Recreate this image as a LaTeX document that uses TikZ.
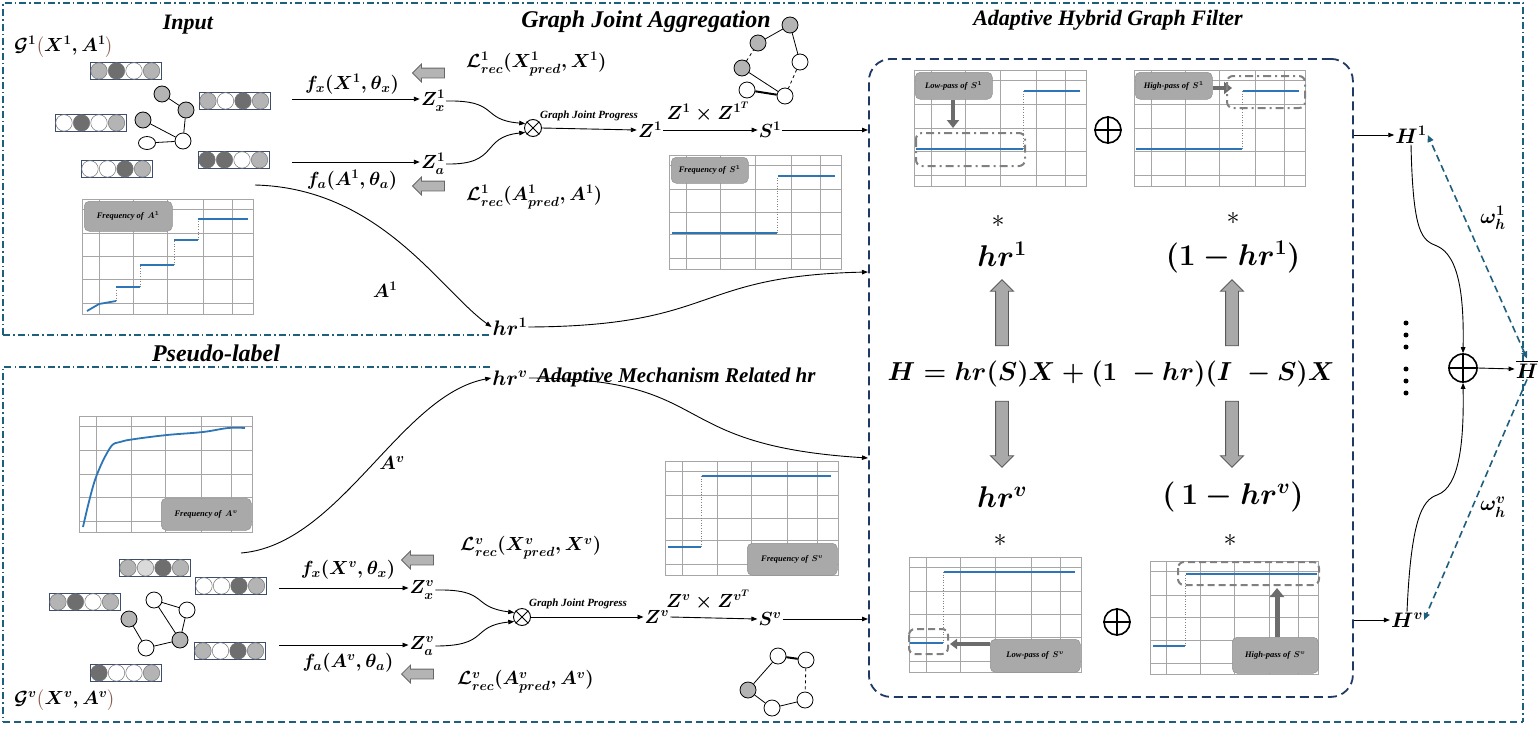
\documentclass[tikz,border=0pt]{standalone}
\usepackage{fix-cm}
\usepackage{amsmath}
\usepackage{bm}
\usepackage{fontspec}
\setmainfont{Liberation Serif}
\usetikzlibrary{arrows.meta,shapes.arrows,shapes.geometric,calc}
\definecolor{teal1}{HTML}{1F5F7E}
\definecolor{navy1}{HTML}{203864}
\definecolor{lg}{HTML}{B4B4B4}
\definecolor{dg}{HTML}{6E6E6E}
\definecolor{vlg}{HTML}{DADADA}
\definecolor{bl}{HTML}{2E75B6}
\definecolor{gridc}{HTML}{A6A6A6}
\definecolor{boxg}{HTML}{A9A9A9}
\definecolor{brn}{HTML}{8B5A4A}
\tikzset{
  ddframe/.style={teal1, line width=1.6pt, dash pattern=on 7pt off 3pt on 1.5pt off 3pt},
  dframe/.style={teal1, line width=1.6pt, dash pattern=on 7pt off 4pt},
  arr/.style={-{Triangle[length=6pt,width=4.5pt]}, line width=0.9pt},
  mlbl/.style={font=\fontsize{19}{22}\selectfont\boldmath, inner sep=1pt},
  hlbl/.style={font=\fontsize{21}{24}\selectfont\boldmath, inner sep=1pt},
  flbl/.style={font=\fontsize{30}{34}\selectfont\boldmath, inner sep=1pt},
  ttl/.style={font=\fontsize{22}{24}\selectfont\bfseries\itshape, inner sep=1pt},
  fvrect/.style={draw=navy1!70!gray, line width=0.8pt, minimum width=71pt, minimum height=17pt, inner sep=0, anchor=north west},
  fvc/.style={circle, draw=black!55, line width=0.5pt, minimum size=16.5pt, inner sep=0},
  gnode/.style={circle, draw=black, line width=0.8pt, minimum size=16pt, inner sep=0},
  chartframe/.style={draw=gridc, line width=0.9pt, inner sep=0},
  gridline/.style={gridc, line width=0.7pt},
  bstep/.style={bl, line width=1.8pt},
  dotc/.style={gray, dotted, line width=0.6pt},
  lblbox/.style={fill=boxg, draw=boxg!85!black, line width=0.5pt, rounded corners=5pt, inner sep=0, anchor=north west, font=\fontsize{8.5}{9}\selectfont\bfseries\itshape},
  holl/.style={single arrow, shape border rotate=180, draw=black!60, fill=lg, line width=0.8pt, minimum height=32pt, inner sep=4.5pt, single arrow head extend=4pt},
  bigarr/.style={single arrow, draw=black!65, fill=boxg, line width=0.9pt, minimum height=66pt, inner sep=6pt, single arrow head extend=5pt},
  graydd/.style={draw=gray, line width=2pt, rounded corners=6pt, dash pattern=on 8pt off 4pt on 2pt off 4pt},
  graydash/.style={draw=gray, line width=2pt, rounded corners=6pt, dash pattern=on 7pt off 4pt},
  thickarr/.style={gray!85!black, line width=4pt, -{Triangle[length=8pt,width=12pt]}},
  tarr/.style={teal1, line width=1.6pt, dash pattern=on 7pt off 4pt},
  star/.style={font=\fontsize{26}{28}\selectfont, inner sep=0},
  gjp/.style={font=\fontsize{11}{12}\selectfont\bfseries\itshape, anchor=west, inner sep=0},
}
\newcommand\fvec[7]{%
  \node[fvrect] (#1) at (#2,#3) {};
  \node[fvc, fill=#4] (#1-1) at ($(#1.west)+(9,0)$) {};
  \node[fvc, fill=#5] (#1-2) at ($(#1.west)+(26.5,0)$) {};
  \node[fvc, fill=#6] (#1-3) at ($(#1.west)+(44,0)$) {};
  \node[fvc, fill=#7] (#1-4) at ($(#1.west)+(61.5,0)$) {};
}
\newcommand\fchart[5]{%
  \node[chartframe, minimum width=#4pt, minimum height=#5pt, anchor=north west] (#1) at (#2,#3) {};
  \foreach \f in {0.1,0.3,0.5,0.71,0.88}
    \draw[gridline] ($(#1.north west)+(\f*#4,0)$) -- ($(#1.south west)+(\f*#4,0)$);
  \foreach \f in {0.09,0.3,0.5,0.7,0.91}
    \draw[gridline] ($(#1.north west)+(0,\f*#5)$) -- ($(#1.north east)+(0,\f*#5)$);
}
\newcommand\opl[4]{%
  \node[circle, draw, line width=1.6pt, minimum size=#4pt, inner sep=0] (#1) at (#2,#3) {};
  \draw[line width=1.6pt] (#1.north) -- (#1.south) (#1.east) -- (#1.west);
}
\newcommand\otm[4]{%
  \node[circle, draw, line width=0.9pt, minimum size=#4pt, inner sep=0] (#1) at (#2,#3) {};
  \draw[line width=0.9pt] (#1.north west) -- (#1.south east) (#1.north east) -- (#1.south west);
}
\begin{document}
\begin{tikzpicture}[x=1pt,y=-1pt]
\useasboundingbox (0,0) rectangle (1538,728);

% ---------------- frames ----------------
\draw[ddframe] (3,335) -- (3,3) -- (1523,3) -- (1523,722);
\draw[ddframe] (3,335) -- (490,335);
\draw[ddframe] (490,367) -- (3,367) -- (3,722);
\draw[dframe] (3,722) -- (1523,722);
\node[draw=navy1, line width=1.8pt, dash pattern=on 9pt off 5pt, rounded corners=22pt,
      minimum width=484pt, minimum height=638pt, anchor=north west, inner sep=0] (filter) at (868,58) {};

% ---------------- titles ----------------
\node[ttl] (tIn) at (188,25) {Input};
\node[ttl, font=\fontsize{24}{26}\selectfont\bfseries\itshape] (tGJA) at (646,22) {Graph Joint Aggregation};
\node[ttl] (tAHGF) at (1108,20) {Adaptive Hybrid Graph Filter};
\node[ttl, font=\fontsize{24}{26}\selectfont\bfseries\itshape] (tPL) at (216,353) {Pseudo-label};
\node[font=\fontsize{21}{23}\selectfont\bfseries\itshape, anchor=west, inner sep=0] (tAM) at (537,377) {Adaptive Mechanism Related hr};

% ---------------- input graph ----------------
\node[anchor=west, font=\fontsize{19}{22}\selectfont\boldmath, inner sep=0] (G1) at (14,47) {$\mathcal{G}^{1}\textcolor{brn}{\big(}X^{1},A^{1}\textcolor{brn}{\big)}$};
\fvec{fa1}{90}{62}{lg}{dg}{white}{lg}
\fvec{fa2}{199}{92}{lg}{white}{dg}{lg}
\fvec{fa3}{55}{114}{white}{dg}{white}{lg}
\fvec{fa4}{198}{151}{dg}{dg}{white}{lg}
\fvec{fa5}{81}{160}{white}{white}{dg}{lg}
\node[gnode, fill=lg] (g1a) at (162,94) {};
\node[gnode, fill=lg] (g1b) at (186,110) {};
\node[gnode, fill=lg] (g1c) at (143,120) {};
\node[ellipse, draw, line width=0.8pt, fill=white, minimum width=17pt, minimum height=13pt, inner sep=0] (g1d) at (147,143) {};
\node[gnode, fill=white] (g1e) at (183,141) {};
\draw[line width=0.8pt] (g1a) -- (g1b) (g1b) -- (g1e) (g1c) -- (g1e) (g1d) -- (g1e);

% chart A1
\fchart{ca1}{82}{199}{171}{115}
\draw[bstep] (87,311) -- (99,304) -- (116,301);
\draw[dotc] (116,301) -- (116,287) (140,287) -- (140,265) (174,265) -- (174,240) (198,240) -- (198,219);
\draw[bstep] (116,287) -- (140,287);
\draw[bstep] (140,265) -- (174,265);
\draw[bstep] (174,240) -- (198,240);
\draw[bstep] (198,219) -- (248,219);
\node[lblbox, minimum width=88pt, minimum height=30pt] (ca1l) at (84,201) {Frequency of\, $\boldsymbol{A^{1}}$};

% ---------------- pseudo-label graph ----------------
\fchart{cav}{79}{416}{173}{116}
\draw[bstep] plot[smooth, tension=0.6] coordinates {(83,527) (95,480) (110,448) (120,442) (135,439) (167,435) (203,432) (228,428) (245,428)};
\node[lblbox, minimum width=90pt, minimum height=32pt] (cavl) at (161,498) {Frequency of\, $\boldsymbol{A^{v}}$};
\fvec{fb1}{119}{559}{lg}{vlg}{dg}{lg}
\fvec{fb2}{195}{577}{white}{white}{dg}{lg}
\fvec{fb3}{49}{593}{lg}{dg}{white}{lg}
\fvec{fb4}{194}{642}{lg}{white}{dg}{lg}
\fvec{fb5}{90}{664}{dg}{white}{white}{lg}
\node[gnode, fill=white] (gva) at (154,600) {};
\node[gnode, fill=white] (gvb) at (187,610) {};
\node[gnode, fill=lg] (gvc) at (129,619) {};
\node[gnode, fill=white] (gvd) at (146,648) {};
\node[gnode, fill=lg] (gve) at (180,640) {};
\draw[line width=0.8pt] (gva) -- (gvb) (gva) -- (gve) (gvb) -- (gve) (gvc) -- (gvd) (gvd) -- (gve);
\node[anchor=west, font=\fontsize{19}{22}\selectfont\boldmath, inner sep=0] (Gv) at (14,700) {$\mathcal{G}^{v}\textcolor{brn}{\big(}X^{v},A^{v}\textcolor{brn}{\big)}$};

% ---------------- graph joint aggregation (top) ----------------
\coordinate (fx1s) at (292,99);
\coordinate (fa1s) at (292,162);
\node[mlbl] (Zx1) at (433,101) {$Z^{1}_{x}$};
\node[mlbl] (Za1) at (433,164) {$Z^{1}_{a}$};
\draw[arr] (fx1s) -- (fx1s -| Zx1.west);
\draw[arr] (fa1s) -- (fa1s -| Za1.west);
\node[mlbl] (fx1) at (352,84) {$f_{x}(X^{1},\theta_{x})$};
\node[mlbl] (fa1) at (352,180) {$f_{a}(A^{1},\theta_{a})$};
\node[holl] (hx1) at (431,73) {};
\node[holl] (ha1) at (431,186) {};
\node[mlbl, anchor=west] (Lx1) at (465,64) {$\mathcal{L}^{1}_{rec}(X^{1}_{pred},X^{1})$};
\node[mlbl, anchor=west] (La1) at (465,197) {$\mathcal{L}^{1}_{rec}(A^{1}_{pred},A^{1})$};
\otm{ot1}{533}{128}{17}
\draw[arr] (Zx1.east) .. controls (500,100) and (480,120) .. (ot1.150);
\draw[arr] (Za1.east) .. controls (500,165) and (480,137) .. (ot1.210);
\node[gjp] (gjp1) at (540,116) {Graph Joint Progress};
\node[mlbl] (Z1) at (650,130) {$Z^{1}$};
\node[mlbl] (S1) at (770,130) {$S^{1}$};
\node[mlbl] (ZZ1) at (708,112) {$Z^{1}\times Z^{1^{T}}$};
\draw[arr] (ot1.east) -- (Z1.west);
\draw[arr] (Z1.east) -- (S1.west);
\draw[arr] (S1.east) -- (S1 -| filter.west);
% small graph top
\node[gnode, fill=lg] (sg1) at (758,43) {};
\node[gnode, fill=lg] (sg2) at (742,68) {};
\node[gnode, fill=white] (sg3) at (747,90) {};
\node[gnode, fill=lg] (sg4) at (790,25) {};
\node[gnode, fill=white] (sg5) at (800,62) {};
\node[gnode, fill=white] (sg6) at (785,96) {};
\draw[line width=0.8pt, dashed] (sg2) -- (sg1);
\draw[line width=0.8pt] (sg1) -- (sg4) (sg2) -- (sg6) (sg4) -- (sg5);
\draw[line width=2pt] (sg3) -- (sg6);
\draw[line width=0.8pt, dashed] (sg5) -- (sg6);
% chart S1
\fchart{cs1}{669}{155}{172}{114}
\draw[bstep] (672,233) -- (777,233);
\draw[dotc] (777,233) -- (777,176);
\draw[bstep] (778,176) -- (835,176);
\node[lblbox, minimum width=77pt, minimum height=26pt] (cs1l) at (671,157) {Frequency of\, $\boldsymbol{S^{1}}$};

% ---------------- hr ----------------
\node[hlbl] (hr1) at (510,327) {$hr^{1}$};
\node[hlbl] (hrv) at (510,378) {$hr^{v}$};
\coordinate (fin1) at (868,272);
\coordinate (finv) at (868,458);
\draw[arr] (255,185) .. controls (380,188) and (440,290) .. (hr1.west);
\node[mlbl] (A1lbl) at (385,290) {$A^{1}$};
\draw[arr] (241,553) .. controls (340,545) and (400,395) .. (hrv.west);
\node[mlbl] (Avlbl) at (392,463) {$A^{v}$};
\draw[arr] (hr1.east) .. controls (720,326) and (690,276) .. (fin1);
\draw[arr] (hrv.east) .. controls (720,378) and (660,445) .. (finv);

% ---------------- graph joint aggregation (bottom) ----------------
\coordinate (fxvs) at (279,588);
\coordinate (favs) at (279,645);
\node[mlbl] (Zxv) at (422,590) {$Z^{v}_{x}$};
\node[mlbl] (Zav) at (422,646) {$Z^{v}_{a}$};
\draw[arr] (fxvs) -- (fxvs -| Zxv.west);
\draw[arr] (favs) -- (favs -| Zav.west);
\node[mlbl] (fxv) at (348,570) {$f_{x}(X^{v},\theta_{x})$};
\node[mlbl] (fav) at (348,663) {$f_{a}(A^{v},\theta_{a})$};
\node[holl] (hxv) at (420,560) {};
\node[holl] (hav) at (420,674) {};
\node[mlbl, anchor=west] (Lxv) at (459,548) {$\mathcal{L}^{v}_{rec}(X^{v}_{pred},X^{v})$};
\node[mlbl, anchor=west] (Lav) at (456,682) {$\mathcal{L}^{v}_{rec}(A^{v}_{pred},A^{v})$};
\otm{otv}{522}{617}{17}
\draw[arr] (Zxv.east) .. controls (490,589) and (470,607) .. (otv.150);
\draw[arr] (Zav.east) .. controls (490,646) and (470,626) .. (otv.210);
\node[gjp] (gjpv) at (529,604) {Graph Joint Progress};
\node[mlbl] (Zv) at (657,617) {$Z^{v}$};
\node[mlbl] (Sv) at (770,619) {$S^{v}$};
\node[mlbl] (ZZv) at (708,600) {$Z^{v}\times Z^{v^{T}}$};
\draw[arr] (otv.east) -- (Zv.west);
\draw[arr] (Zv.east) -- (Sv.west);
\draw[arr] (Sv.east) -- (Sv -| filter.west);
% small graph bottom
\node[gnode, fill=white] (sb1) at (778,656) {};
\node[gnode, fill=white] (sb2) at (806,660) {};
\node[gnode, fill=lg] (sb3) at (748,690) {};
\node[gnode, fill=white] (sb4) at (772,708) {};
\node[gnode, fill=white] (sb5) at (805,700) {};
\draw[line width=2pt] (sb1) -- (sb2);
\draw[line width=0.8pt] (sb1) -- (sb3) (sb3) -- (sb4) (sb4) -- (sb5);
\draw[line width=0.8pt, dashed] (sb2) -- (sb5);
% chart Sv
\fchart{csv}{665}{461}{173}{114}
\draw[bstep] (702,476) -- (831,476);
\draw[dotc] (701,476) -- (701,547);
\draw[bstep] (668,547) -- (701,547);
\node[lblbox, minimum width=90pt, minimum height=32pt] (csvl) at (747,543) {Frequency of\, $\boldsymbol{S^{v}}$};

% ---------------- filter contents ----------------
\fchart{lp1}{914}{70}{172}{116}
\draw[bstep] (916,149) -- (1023,149);
\draw[dotc] (1023,149) -- (1023,91);
\draw[bstep] (1024,91) -- (1080,91);
\node[lblbox, minimum width=77pt, minimum height=27pt] (lp1l) at (915,72) {Low-pass of\, $\boldsymbol{S^{1}}$};
\draw[thickarr] (lp1l.south -| 953,0) -- (953,128);
\draw[graydd] (916,133) rectangle (1025,166);

\fchart{hp1}{1134}{70}{171}{116}
\draw[bstep] (1136,149) -- (1242,149);
\draw[dotc] (1242,149) -- (1242,91);
\draw[bstep] (1243,91) -- (1299,91);
\node[lblbox, minimum width=77pt, minimum height=27pt] (hp1l) at (1135,72) {High-pass of\, $\boldsymbol{S^{1}}$};
\draw[thickarr] (hp1l.east |- 0,88) -- (1232,88);
\draw[graydd] (1227,76) rectangle (1305,108);
\opl{op1}{1108}{130}{26}

\fchart{lpv}{909}{557}{172}{115}
\draw[bstep] (944,572) -- (1075,572);
\draw[dotc] (943,572) -- (943,643);
\draw[bstep] (910,643) -- (943,643);
\node[lblbox, minimum width=90pt, minimum height=33pt] (lpvl) at (990,639) {Low-pass of\, $\boldsymbol{S^{v}}$};
\draw[gray!85!black, line width=3.5pt, -{Triangle[length=7pt,width=10pt]}] (lpvl.west |- 0,644) -- (950,644);
\draw[graydash] (909,629) rectangle (948,654);

\fchart{hpv}{1150}{561}{168}{113}
\draw[bstep] (1153,646) -- (1185,646);
\draw[dotc] (1185,646) -- (1185,574);
\draw[bstep] (1186,574) -- (1317,574);
\node[lblbox, minimum width=86pt, minimum height=36pt] (hpvl) at (1232,637) {High-pass of\, $\boldsymbol{S^{v}}$};
\draw[gray!85!black, line width=5pt, -{Triangle[length=9pt,width=14pt]}] (hpvl.north -| 1277,0) -- (1277,588);
\draw[graydash] (1178,562) rectangle (1319,585);
\opl{opv}{1117}{622}{26}

\node[star] (st1) at (998,221) {$\ast$};
\node[star] (st2) at (1233,218) {$\ast$};
\node[flbl] (hr1f) at (1002,254) {$hr^{1}$};
\node[flbl] (omhr1) at (1233,257) {$(1-hr^{1})$};
\node[bigarr, shape border rotate=90] (ua1) at (1002,316) {};
\node[bigarr, shape border rotate=90] (ua2) at (1232,316) {};
\node[flbl, font=\fontsize{26}{30}\selectfont\boldmath] (eq) at (1111,374) {$H=hr(S)X+(1\;-hr)(I\;-S)X$};
\node[bigarr, shape border rotate=270] (da1) at (1002,431) {};
\node[bigarr, shape border rotate=270] (da2) at (1232,431) {};
\node[flbl] (hrvf) at (1002,497) {$hr^{v}$};
\node[flbl] (omhrv) at (1233,497) {$(\,1-hr^{v})$};
\node[star] (st3) at (1000,540) {$\ast$};
\node[star] (st4) at (1230,540) {$\ast$};

% ---------------- fusion ----------------
\node[hlbl] (H1) at (1411,135) {$H^{1}$};
\node[hlbl] (Hv) at (1407,620) {$H^{v}$};
\draw[arr] (H1 -| filter.east) -- (H1.west);
\draw[arr] (Hv -| filter.east) -- (Hv.west);
\opl{opf}{1463}{368}{28}
\node[hlbl] (Hbar) at (1527,369) {$\overline{H}$};
\draw[arr] (opf.east) -- (Hbar.west);
\foreach \yy [count=\i] in {323,335,347,369,381,393}
  \node[circle, fill=black, inner sep=0, minimum size=5pt] (dt\i) at (1406,\yy) {};
\draw[arr] (H1.south) .. controls (1413,235) and (1422,240) .. (1437,246) .. controls (1460,256) and (1464,300) .. (opf.north);
\draw[arr] (Hv.north) .. controls (1411,520) and (1422,500) .. (1437,495) .. controls (1460,487) and (1464,440) .. (opf.south);
\draw[tarr, {Triangle[length=7pt,width=6pt]}-{Triangle[length=7pt,width=6pt]}] (Hbar.north) -- (H1.east);
\draw[tarr, -{Triangle[length=7pt,width=6pt]}] (Hbar.south) -- (Hv.east);
\node[hlbl] (w1) at (1493,218) {$\omega^{1}_{h}$};
\node[hlbl] (wv) at (1493,507) {$\omega^{v}_{h}$};
\end{tikzpicture}
\end{document}
